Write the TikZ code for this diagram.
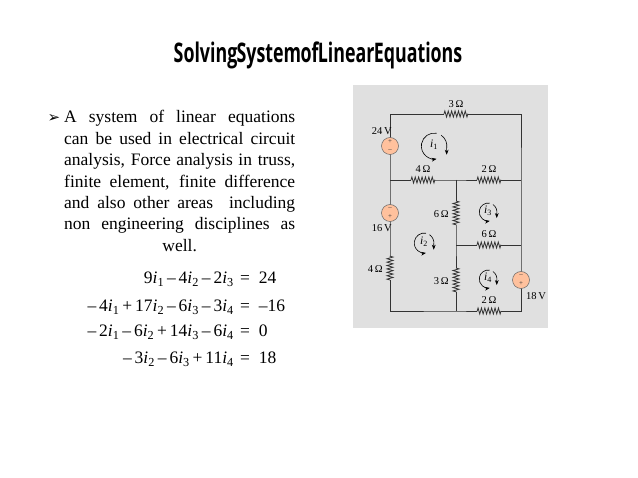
\documentclass[tikz,border=0pt]{standalone}
\usepackage{fontspec}
\setmainfont{Liberation Serif}
\newfontfamily\titlefont{Open Sans}
\newfontfamily\symfont{DejaVu Sans}
\newcommand{\vi}[1]{\textit{i}\textsubscript{#1}}
\newcommand{\mn}{\,\textendash\,}
\newcommand{\pl}{\,+\,}
\usetikzlibrary{decorations.pathmorphing,arrows.meta}
\begin{document}
\begin{tikzpicture}[x=1pt,y=-1pt,
  wire/.style={line width=0.8pt,color=black!80},
  res/.style={wire,decorate,decoration={zigzag,segment length=3.4pt,amplitude=3pt}},
  src/.style={circle,draw=black!60,fill=orange!40!pink!70,minimum size=17pt,inner sep=0pt,line width=0.5pt},
  sgn/.style={font=\fontsize{7}{7}\selectfont,text=black!80,inner sep=0pt},
  lbl/.style={font=\fontsize{10.5}{11}\selectfont,inner sep=1pt},
  loop/.style={line width=0.6pt,-{Stealth[length=5pt]}},
  eq/.style={font=\fontsize{17.5}{19}\selectfont,inner sep=0pt}]
\useasboundingbox (0,0) rectangle (638,478);
\fill[white] (0,0) rectangle (638,478);
\node[font=\titlefont\bfseries\fontsize{27}{28}\selectfont] (title) at (318,55) {\scalebox{0.66}[1]{Solving\kern-1pt System\kern-1pt of\kern-1pt Linear\kern-1pt Equations}};
\node[anchor=base west,text width=231pt,align=justify,inner sep=0pt,font=\fontsize{17.5}{21.4}\selectfont] (txt) at (64,123)
{\hyphenpenalty=10000\makebox[0pt][r]{{\symfont\fontsize{15}{15}\selectfont ➢}\hspace{4pt}}A system of linear equations\linebreak can be used in electrical circuit\linebreak analysis, Force analysis in truss,\linebreak finite element, finite difference\linebreak and also other areas\ \ including\linebreak non engineering disciplines as{\parfillskip=0pt\par}\centering well.\par};
% equations
\node[eq,anchor=base east] (e1) at (234,284) {9\vi1\mn4\vi2\mn2\vi3};
\node[eq,anchor=base west] (r1) at (240,284) {=\enspace24};
\node[eq,anchor=base east] (e2) at (234,312) {\textendash\,4\vi1\pl17\vi2\mn6\vi3\mn3\vi4};
\node[eq,anchor=base west] (r2) at (240,312) {=\enspace\textendash16};
\node[eq,anchor=base east] (e3) at (234,337) {\textendash\,2\vi1\mn6\vi2\pl14\vi3\mn6\vi4};
\node[eq,anchor=base west] (r3) at (240,337) {=\enspace0};
\node[eq,anchor=base east] (e4) at (234,364) {\textendash\,3\vi2\mn6\vi3\pl11\vi4};
\node[eq,anchor=base west] (r4) at (240,364) {=\enspace18};
% panel
\fill[black!12] (353,85) rectangle (548,328);
\coordinate (TL) at (390,114); \coordinate (TR) at (521,114);
\coordinate (ML) at (390,180); \coordinate (MM) at (456,180); \coordinate (MR) at (521,180);
\coordinate (NM) at (456,245); \coordinate (NR) at (521,245);
\coordinate (BL) at (390,311); \coordinate (BM) at (456,311); \coordinate (BR) at (521,311);
% wires
\draw[wire] (TL) -- (444,114); \draw[res] (444,114) -- (468,114); \draw[wire] (468,114) -- (TR) -- (MR) -- (NR) -- (BR) -- (501,311);
\draw[res] (501,311) -- (477,311); \draw[wire] (477,311) -- (BM) -- (BL) -- (390,280);
\draw[res] (390,280) -- (390,256); \draw[wire] (390,256) -- (ML) -- (TL);
\draw[wire] (ML) -- (411,180); \draw[res] (411,180) -- (435,180); \draw[wire] (435,180) -- (MM) -- (477,180);
\draw[res] (477,180) -- (501,180); \draw[wire] (501,180) -- (MR);
\draw[wire] (MM) -- (456,201); \draw[res] (456,201) -- (456,225); \draw[wire] (456,225) -- (NM) -- (456,268);
\draw[res] (456,268) -- (456,292); \draw[wire] (456,292) -- (BM);
\draw[wire] (NM) -- (477,245); \draw[res] (477,245) -- (501,245); \draw[wire] (501,245) -- (NR);
% sources
\node[src] (s24) at (390,146) {};
\node[sgn] at (390,142) {+}; \node[sgn] at (390,150.5) {\textendash};
\node[src] (s16) at (390,213) {};
\node[sgn] at (390,208.5) {\textendash}; \node[sgn] at (390,217) {+};
\node[src] (s18) at (521,280) {};
\node[sgn] at (521,275.5) {\textendash}; \node[sgn] at (521,284) {+};
% labels
\node[lbl] (l3a) at (456,104) {3\,Ω};
\node[lbl,anchor=east] (l24) at (393,131) {24\,V};
\node[lbl] (l4a) at (423,169) {4\,Ω};
\node[lbl] (l2a) at (489,169) {2\,Ω};
\node[lbl,anchor=east] (l6a) at (450,214) {6\,Ω};
\node[lbl,anchor=east] (l16) at (393,228) {16\,V};
\node[lbl] (l6b) at (489,234) {6\,Ω};
\node[lbl,anchor=east] (l4b) at (384,269) {4\,Ω};
\node[lbl,anchor=east] (l3b) at (450,281) {3\,Ω};
\node[lbl,anchor=west] (l18) at (525,296) {18\,V};
\node[lbl] (l2b) at (489,300) {2\,Ω};
% loops
\foreach \cx/\cy/\r/\n in {434/146/13/1, 488/212/9/3, 424/243/10/2, 488/279/9/4}{
  \draw[loop] (\cx+\r*0.2,\cy-\r*0.98) arc[start angle=-80,end angle=-280,radius=\r];
  \draw[loop] (\cx+\r*0.55,\cy-\r*0.83) arc[start angle=-56,end angle=10,radius=\r] -- ++(0,\r*0.5);
  \node[lbl,font=\fontsize{11.5}{12}\selectfont] at (\cx,\cy-1) {\textit{i}\textsubscript{\n}};
}
\end{tikzpicture}
\end{document}
